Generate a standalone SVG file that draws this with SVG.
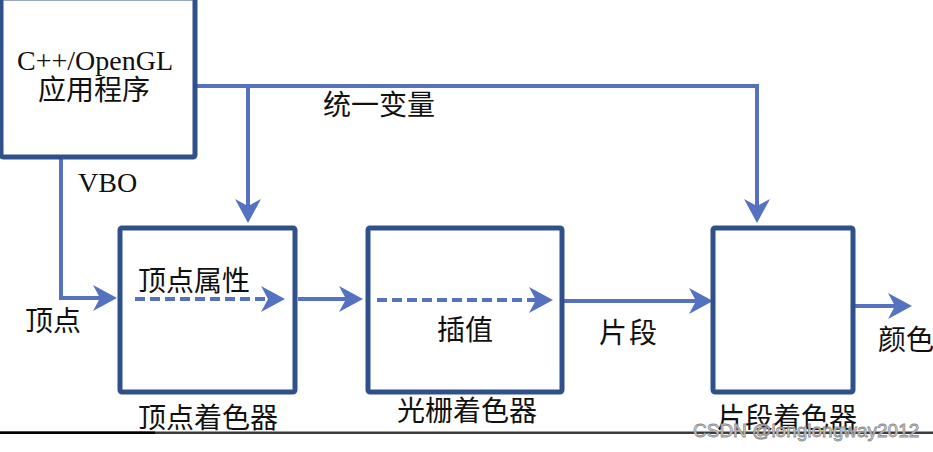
<svg xmlns="http://www.w3.org/2000/svg" width="933" height="452" viewBox="0 0 933 452">
<style>
.box{fill:#fff;stroke:#30508c;stroke-width:5}
.con{fill:none;stroke:#5472c0;stroke-width:4}
.dash{stroke-dasharray:10 5}
.t{font-family:"Liberation Serif","Noto Sans CJK SC",serif;font-size:28px;fill:#111}
.wm{font-family:"Liberation Sans",sans-serif;font-size:19px;fill:#dcdcdc;stroke:#8a8a8a;stroke-width:0.8}
</style>
<defs>
<marker id="ah" markerUnits="userSpaceOnUse" viewBox="-25 -14 26 28" markerWidth="26" markerHeight="28" refX="-12" refY="0" orient="auto">
<path d="M0,0 L-24,-13 L-17,0 L-24,13 Z" fill="#5472c0"/>
</marker>
</defs>
<rect x="0" y="0" width="933" height="452" fill="#fff"/>
<g id="connectors">
<path class="con" d="M61,157 V298 H105" marker-end="url(#ah)"/>
<path class="con" d="M196,86 H757 V211" marker-end="url(#ah)"/>
<path class="con" d="M248,86 V211" marker-end="url(#ah)"/>
<path class="con" d="M298,299 H351" marker-end="url(#ah)"/>
<path class="con" d="M564,301 H701" marker-end="url(#ah)"/>
<path class="con" d="M855,306 H900" marker-end="url(#ah)"/>
</g>
<g id="app">
<rect class="box" x="1" y="-2" width="194" height="159" rx="2"/>
<text class="t" x="95" y="70" text-anchor="middle">C++/OpenGL</text>
<text class="t" x="94" y="100" text-anchor="middle">应用程序</text>
</g>
<g id="vertex-shader">
<rect class="box" x="120" y="228" width="175" height="164" rx="2"/>
<text class="t" x="138" y="291">顶点属性</text>
<path class="con dash" d="M135,299 H273" marker-end="url(#ah)"/>
<text class="t" x="138" y="428">顶点着色器</text>
</g>
<g id="raster-shader">
<rect class="box" x="368" y="228" width="194" height="164" rx="2"/>
<path class="con dash" d="M377,300 H541" marker-end="url(#ah)"/>
<text class="t" x="437" y="340">插值</text>
<text class="t" x="397" y="421">光栅着色器</text>
</g>
<g id="fragment-shader">
<rect class="box" x="713" y="228" width="140" height="164" rx="2"/>
<text class="t" x="717" y="428">片段着色器</text>
</g>
<g id="labels">
<text class="t" x="323" y="115">统一变量</text>
<text class="t" x="78" y="192">VBO</text>
<text class="t" x="25" y="331">顶点</text>
<text class="t" x="599" y="343" letter-spacing="2">片段</text>
<text class="t" x="878" y="350">颜色</text>
</g>
<rect x="0" y="431.5" width="933" height="2.5" fill="#3a3a3a"/>
<rect x="0" y="431.5" width="155" height="2.5" fill="#000"/>
<text class="wm" x="693" y="437">CSDN @longlongway2012</text>
</svg>
